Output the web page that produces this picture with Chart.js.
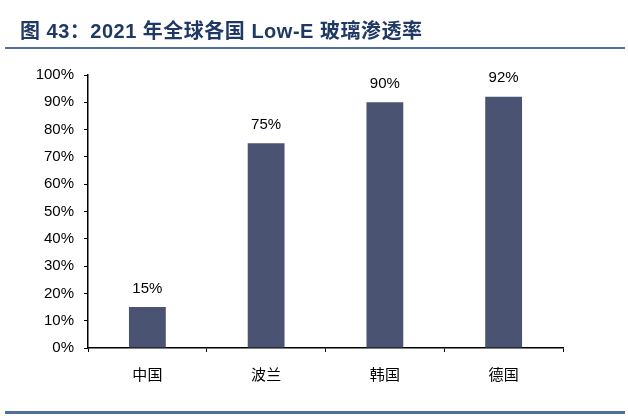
<!DOCTYPE html>
<html>
<head>
<meta charset="utf-8">
<script src="https://cdn.jsdelivr.net/npm/chart.js@4/dist/chart.umd.min.js"></script>
<style>
html,body{margin:0;padding:0;background:#fff;width:628px;height:416px;overflow:hidden;}
#wrap{position:relative;width:628px;height:416px;}
#title{position:absolute;left:20px;top:15px;font-family:"Liberation Sans","Noto Sans CJK SC",sans-serif;font-weight:bold;font-size:20px;color:#1f3864;white-space:nowrap;letter-spacing:0.5px;}
#topline{position:absolute;left:5px;top:47px;width:620px;height:2px;background:#4f6f9f;}
#botline{position:absolute;left:5px;top:411px;width:620px;height:3px;background:#4f6f9f;}
#c{position:absolute;left:0;top:0;}
</style>
</head>
<body>
<div id="wrap">
<canvas id="c" width="628" height="416"></canvas>
<div id="title">图 43：2021 年全球各国 Low-E 玻璃渗透率</div>
<div id="topline"></div>
<div id="botline"></div>
</div>
<script>
const categories = ["中国", "波兰", "韩国", "德国"];
const penetration = [15, 75, 90, 92];
const yTicks = [0, 10, 20, 30, 40, 50, 60, 70, 80, 90, 100];

const FONT = '"Liberation Sans", "Noto Sans CJK SC", Arial, sans-serif';

const labelPlugin = {
  id: 'valueLabels',
  afterDatasetsDraw(chart) {
    const ctx = chart.ctx;
    const meta = chart.getDatasetMeta(0);
    ctx.save();
    ctx.font = '15px ' + FONT;
    ctx.fillStyle = '#000';
    ctx.textAlign = 'center';
    ctx.textBaseline = 'bottom';
    meta.data.forEach((bar, i) => {
      ctx.fillText(penetration[i] + '%', bar.x, bar.y - 11);
    });
    ctx.restore();
  }
};

new Chart(document.getElementById('c'), {
  type: 'bar',
  data: {
    labels: categories,
    datasets: [{
      data: penetration,
      backgroundColor: '#4a5372',
      borderWidth: 0,
      categoryPercentage: 1,
      barPercentage: 0.31
    }]
  },
  options: {
    responsive: false,
    animation: false,
    devicePixelRatio: 1,
    layout: { padding: { left: 0, right: 65, top: 75, bottom: 0 } },
    plugins: { legend: { display: false }, tooltip: { enabled: false } },
    scales: {
      x: {
        offset: true,
        grid: { offset: true, drawOnChartArea: false, drawTicks: true, tickLength: 4, color: '#000', lineWidth: 1 },
        border: { display: true, color: '#000', width: 1.5 },
        ticks: { color: '#000', font: { size: 15, family: FONT }, padding: 15, maxRotation: 0 },
        afterFit(s) { s.height = 68; }
      },
      y: {
        min: 0, max: 100,
        afterBuildTicks(s) { s.ticks = yTicks.map(v => ({ value: v })); },
        grid: { drawOnChartArea: false, drawTicks: true, tickLength: 4, color: '#000', lineWidth: 1 },
        border: { display: true, color: '#000', width: 1.5 },
        ticks: { color: '#000', font: { size: 15, family: FONT }, padding: 10, callback: v => v + '%' },
        afterFit(s) { s.width = 88; }
      }
    }
  },
  plugins: [labelPlugin]
});
</script>
</body>
</html>
